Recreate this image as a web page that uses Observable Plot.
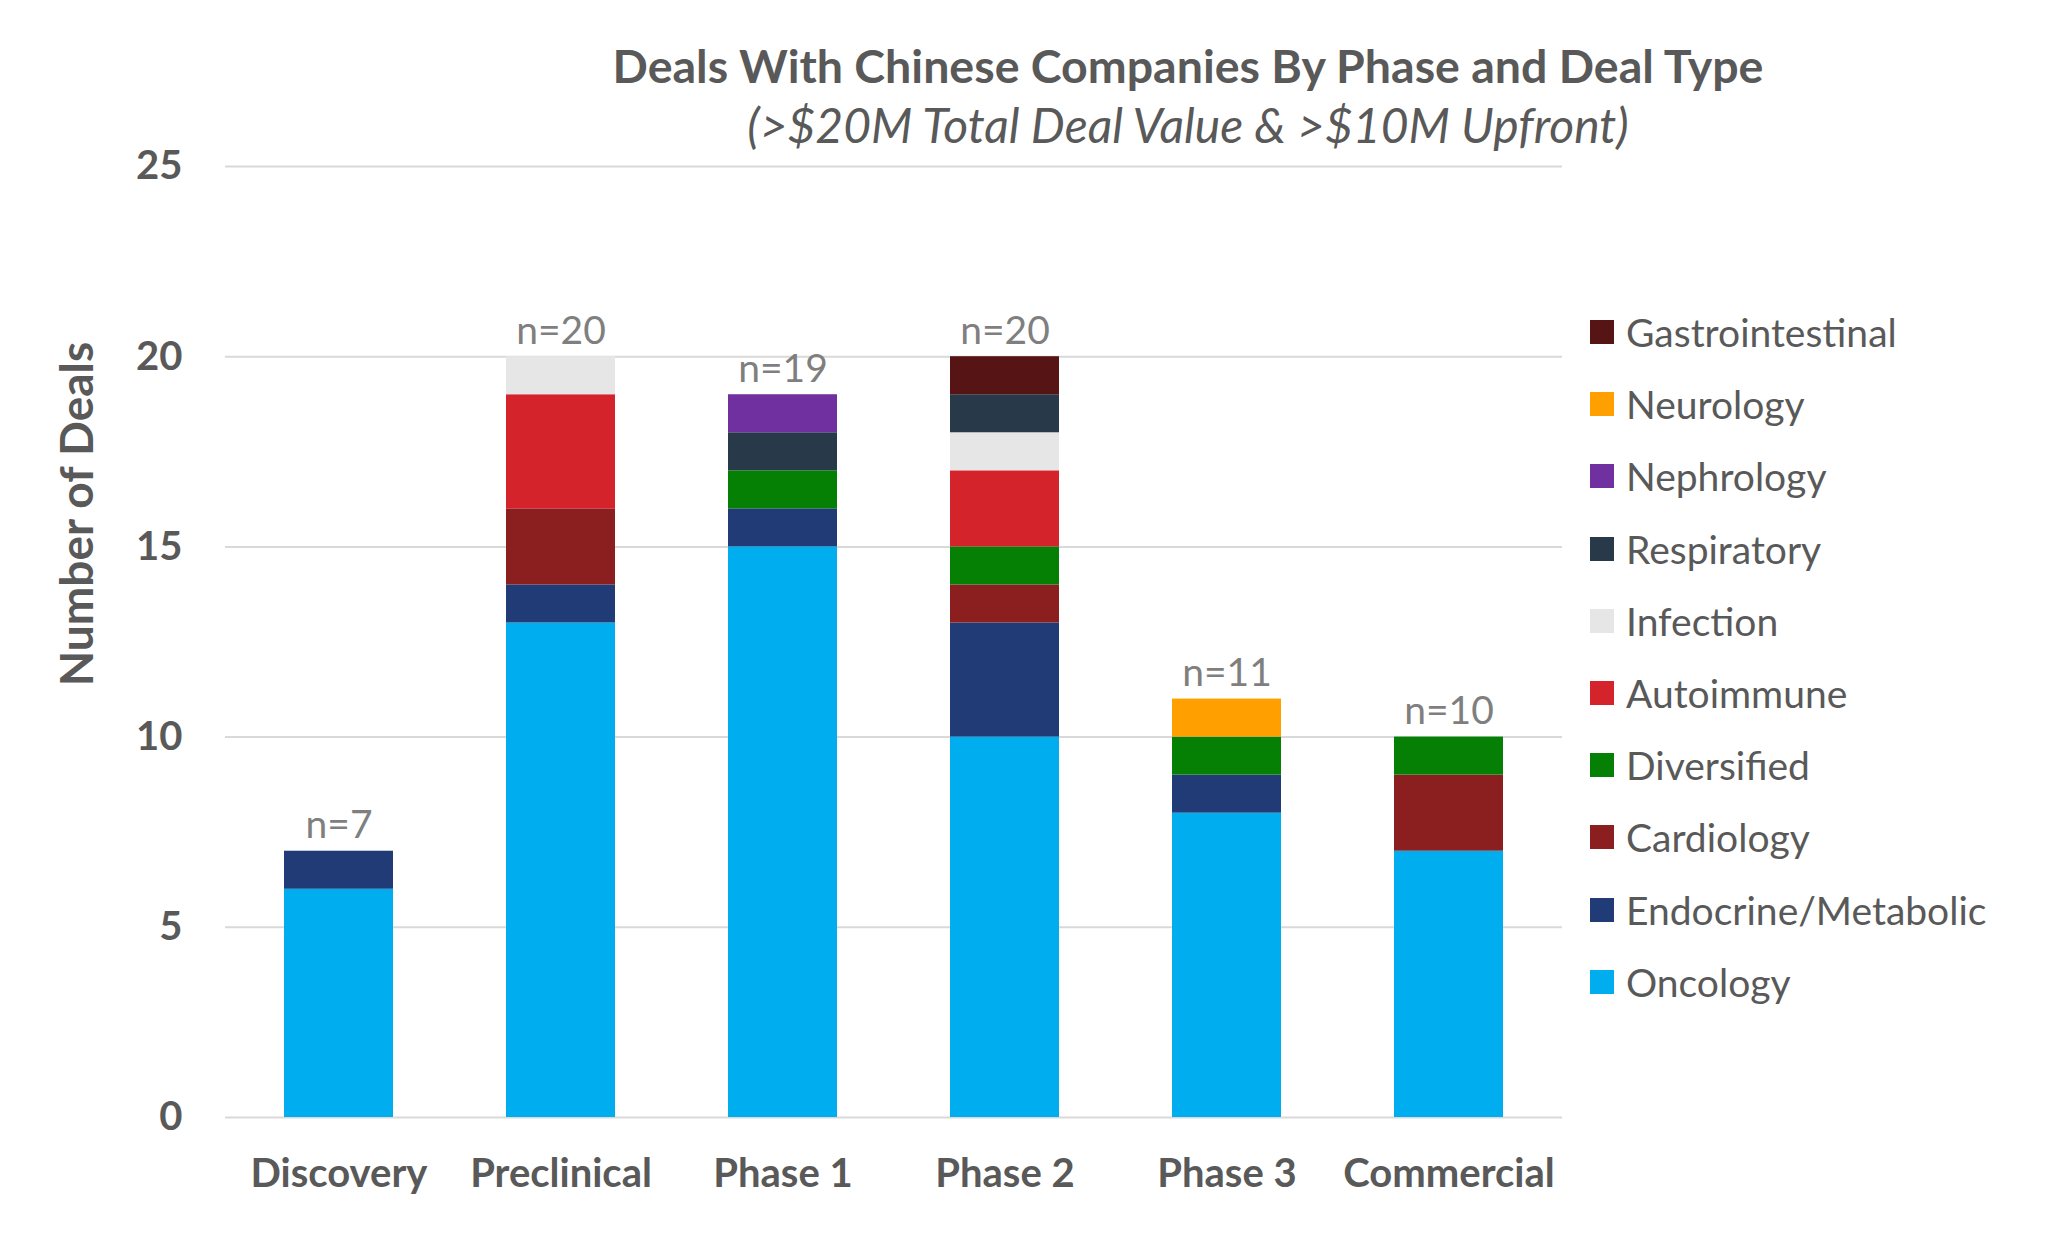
<!DOCTYPE html>
<html>
<head>
<meta charset="utf-8">
<script src="https://cdn.jsdelivr.net/npm/d3@7"></script>
<script src="https://cdn.jsdelivr.net/npm/@observablehq/plot@0.6"></script>
<style>
  html, body { margin: 0; padding: 0; background: #ffffff; }
  #page { position: relative; width: 2060px; height: 1244px; font-family: Lato, "Open Sans", sans-serif; color: #595959; }
  #titles { position: relative; width: 2060px; height: 140px; }
  #titles .t { position: absolute; white-space: nowrap; line-height: 1; transform: translateX(-50%); }
  #row { display: flex; flex-direction: row; }
  #legend { position: relative; width: 480px; height: 1104px; }
  #legend .item { position: absolute; left: 10px; height: 40px; display: flex; align-items: center; white-space: nowrap; }
  #legend .sw { width: 24px; height: 24px; margin-right: 12px; flex: none; }
  #legend .lb { font-size: 39px; line-height: 40px; color: #595959; }
</style>
</head>
<body>
<div id="page">
  <div id="titles"></div>
  <div id="row"><div id="chart"></div><div id="legend"></div></div>
</div>
<script>
// ---- data ----
const titleText = "Deals With Chinese Companies By Phase and Deal Type";
const subtitleText = "(>$20M Total Deal Value & >$10M Upfront)";
const yLabel = "Number of Deals";
const phases = ["Discovery", "Preclinical", "Phase 1", "Phase 2", "Phase 3", "Commercial"];
const areas = ["Oncology", "Endocrine/Metabolic", "Cardiology", "Diversified", "Autoimmune", "Infection", "Respiratory", "Nephrology", "Neurology", "Gastrointestinal"];
const areaColors = ["#00aeef", "#213b77", "#8b1e1e", "#058005", "#d5232b", "#e6e6e6", "#283a4a", "#7030a0", "#ffa000", "#561414"];
const oncology     = [6, 13, 15, 10, 8, 7];
const endocrine    = [1, 1, 1, 3, 1, 0];
const cardiology   = [0, 2, 0, 1, 0, 2];
const diversified  = [0, 0, 1, 1, 1, 1];
const autoimmune   = [0, 3, 0, 2, 0, 0];
const infection    = [0, 1, 0, 1, 0, 0];
const respiratory  = [0, 0, 1, 1, 0, 0];
const nephrology   = [0, 0, 1, 0, 0, 0];
const neurology    = [0, 0, 0, 0, 1, 0];
const gastro       = [0, 0, 0, 1, 0, 0];
const yTicks = [0, 5, 10, 15, 20, 25];

// ---- build table ----
const seriesByArea = [oncology, endocrine, cardiology, diversified, autoimmune, infection, respiratory, nephrology, neurology, gastro];
const rows = [];
areas.forEach((a, i) => phases.forEach((p, j) => {
  if (seriesByArea[i][j] > 0) rows.push({phase: p, area: a, count: seriesByArea[i][j]});
}));
const totals = phases.map(p => ({phase: p, total: d3.sum(rows.filter(r => r.phase === p), r => r.count)}));

// ---- titles ----
const titles = document.getElementById("titles");
const t1 = document.createElement("div");
t1.className = "t"; t1.textContent = titleText;
Object.assign(t1.style, {left: "1188px", top: "42px", fontSize: "46.5px", fontWeight: "bold"});
const t2 = document.createElement("div");
t2.className = "t"; t2.textContent = subtitleText;
Object.assign(t2.style, {left: "1188px", top: "101px", fontSize: "48px", fontStyle: "italic"});
titles.append(t1, t2);

// ---- chart ----
const chart = Plot.plot({
  width: 1580,
  height: 1104,
  marginTop: 26,
  marginBottom: 127,
  marginLeft: 225,
  marginRight: 18,
  style: {fontFamily: "Lato, 'Open Sans', sans-serif", fontSize: "40px", color: "#595959", background: "#ffffff", overflow: "visible"},
  x: {domain: phases, paddingInner: 0.51, paddingOuter: 0.255},
  y: {domain: [0, 25]},
  color: {domain: areas, range: areaColors},
  marks: [
    Plot.ruleY(yTicks, {stroke: "#d9d9d9", strokeWidth: 2}),
    Plot.barY(rows, {x: "phase", y: "count", fill: "area", order: areas}),
    Plot.text(totals, {x: "phase", y: "total", text: d => "n=" + d.total, lineAnchor: "bottom", dy: -13, fontSize: 39, fill: "#7f7f7f"}),
    Plot.axisY({ticks: yTicks, tickSize: 0, tickPadding: 43, fontSize: 40, fontWeight: "bold", label: null}),
    Plot.axisX({tickSize: 0, tickPadding: 41, fontSize: 40, fontWeight: "bold", label: null}),
    Plot.text([yLabel], {frameAnchor: "left", rotate: -90, textAnchor: "middle", lineAnchor: "top", dx: -165, dy: -128, fontSize: 46, fontWeight: "bold", fill: "#595959"})
  ]
});
document.getElementById("chart").append(chart);

// ---- legend (top item = last stacked) ----
const legend = document.getElementById("legend");
const legendOrder = areas.slice().reverse();
legendOrder.forEach((a, i) => {
  const cy = 192 + 72.2 * i;
  const item = document.createElement("div");
  item.className = "item";
  item.style.top = (cy - 20) + "px";
  const sw = document.createElement("div");
  sw.className = "sw";
  sw.style.background = areaColors[areas.indexOf(a)];
  const lb = document.createElement("div");
  lb.className = "lb";
  lb.textContent = a;
  item.append(sw, lb);
  legend.append(item);
});
</script>
</body>
</html>
